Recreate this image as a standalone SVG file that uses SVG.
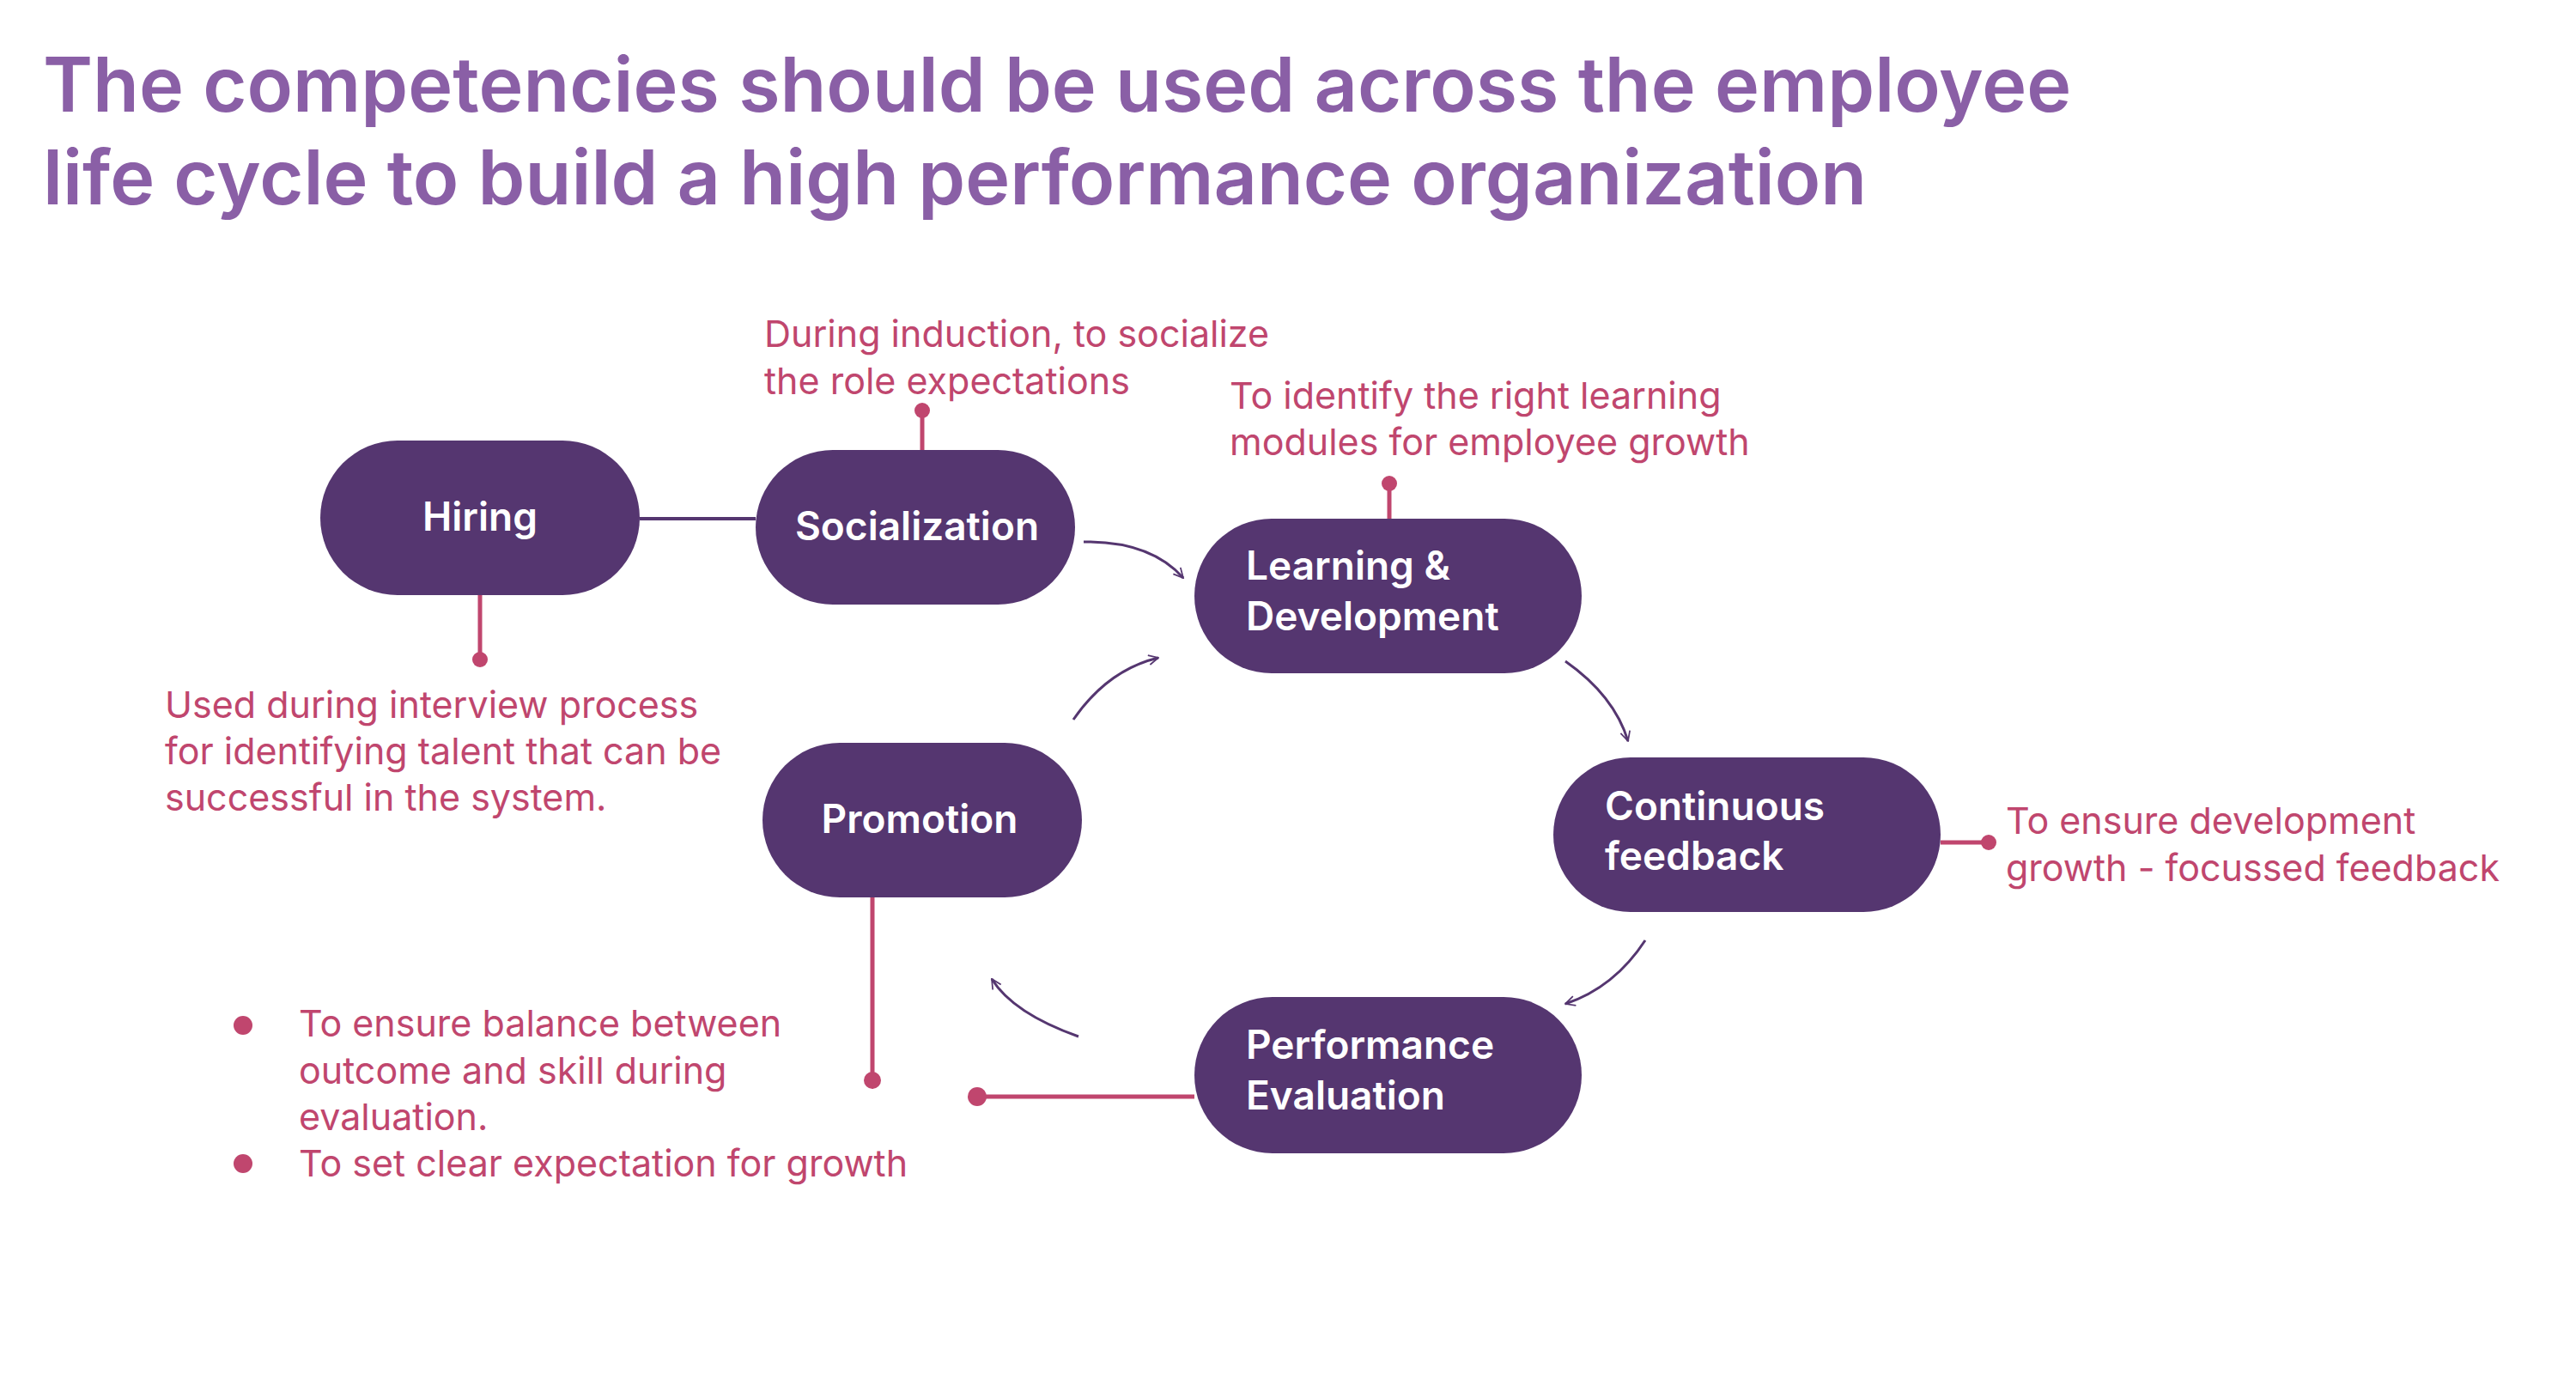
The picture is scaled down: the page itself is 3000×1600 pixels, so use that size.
<svg xmlns="http://www.w3.org/2000/svg" width="3000" height="1600" viewBox="0 0 3000 1600">
<defs>
<style>
.title{font-family:"Inter","Liberation Sans",sans-serif;font-size:88px;font-weight:600;fill:#8A5FA6}
.node rect{fill:#553670}
.node text{font-family:"Inter","Liberation Sans",sans-serif;font-size:46px;font-weight:600;fill:#fff}
.lbl{font-family:"Inter","Liberation Sans",sans-serif;font-size:43px;fill:#C0466E}
.stem{stroke:#C0466E;stroke-width:5;fill:none}
.dot{fill:#C0466E}
.arr{stroke:#553670;stroke-width:3;fill:none;marker-end:url(#ah)}
</style>
<marker id="ah" viewBox="0 0 20 20" refX="18" refY="10" markerWidth="14" markerHeight="14" markerUnits="userSpaceOnUse" orient="auto">
<path d="M2,2 L18,10 L2,18" fill="none" stroke="#553670" stroke-width="2.5"/>
</marker>
</defs>
<rect width="3000" height="1600" fill="#fff"/>
<text class="title" x="50" y="130">The competencies should be used across the employee</text>
<text class="title" x="50" y="238">life cycle to build a high performance organization</text>

<g id="connectors">
<line x1="745" y1="604" x2="880" y2="604" stroke="#553670" stroke-width="4"/>
<path class="arr" d="M1262,631 Q1340,630 1378,673"/>
<path class="arr" d="M1823,770 Q1880,810 1896,863"/>
<path class="arr" d="M1916,1095 Q1880,1150 1823,1169"/>
<path class="arr" d="M1256,1207 Q1180,1180 1155,1140"/>
<path class="arr" d="M1250,838 Q1290,780 1349,766"/>
<line class="stem" x1="1074" y1="476" x2="1074" y2="524"/><circle class="dot" cx="1074" cy="478" r="9"/>
<line class="stem" x1="1618" y1="561" x2="1618" y2="604"/><circle class="dot" cx="1618" cy="563" r="9"/>
<line class="stem" x1="559" y1="693" x2="559" y2="768"/><circle class="dot" cx="559" cy="768" r="9"/>
<line class="stem" x1="2260" y1="981" x2="2316" y2="981"/><circle class="dot" cx="2316" cy="981" r="9"/>
<line class="stem" x1="1016" y1="1045" x2="1016" y2="1258"/><circle class="dot" cx="1016" cy="1258" r="10"/>
<line class="stem" x1="1391" y1="1277" x2="1138" y2="1277" stroke-width="7"/><circle class="dot" cx="1138" cy="1277" r="11"/>
</g>

<g id="hiring" class="node"><rect x="373" y="513" width="372" height="180" rx="90"/><text x="559" y="618" text-anchor="middle">Hiring</text></g>
<g id="socialization" class="node"><rect x="880" y="524" width="372" height="180" rx="90"/><text x="1068" y="629" text-anchor="middle">Socialization</text></g>
<g id="learning" class="node"><rect x="1391" y="604" width="451" height="180" rx="90"/><text x="1451" y="675">Learning &amp;</text><text x="1451" y="734">Development</text></g>
<g id="continuous" class="node"><rect x="1809" y="882" width="451" height="180" rx="90"/><text x="1869" y="955">Continuous</text><text x="1869" y="1013">feedback</text></g>
<g id="performance" class="node"><rect x="1391" y="1161" width="451" height="182" rx="91"/><text x="1451" y="1233">Performance</text><text x="1451" y="1292">Evaluation</text></g>
<g id="promotion" class="node"><rect x="888" y="865" width="372" height="180" rx="90"/><text x="1071" y="970" text-anchor="middle">Promotion</text></g>

<g id="labels">
<text class="lbl" x="890" y="404">During induction, to socialize</text>
<text class="lbl" x="890" y="459">the role expectations</text>
<text class="lbl" x="1432" y="476">To identify the right learning</text>
<text class="lbl" x="1432" y="530">modules for employee growth</text>
<text class="lbl" x="192" y="836">Used during interview process</text>
<text class="lbl" x="192" y="890">for identifying talent that can be</text>
<text class="lbl" x="192" y="944">successful in the system.</text>
<text class="lbl" x="2336" y="971">To ensure development</text>
<text class="lbl" x="2336" y="1026">growth - focussed feedback</text>
<circle class="dot" cx="283" cy="1194" r="11"/>
<circle class="dot" cx="283" cy="1355" r="11"/>
<text class="lbl" x="348" y="1207">To ensure balance between</text>
<text class="lbl" x="348" y="1262">outcome and skill during</text>
<text class="lbl" x="348" y="1316">evaluation.</text>
<text class="lbl" x="348" y="1370">To set clear expectation for growth</text>
</g>
</svg>
